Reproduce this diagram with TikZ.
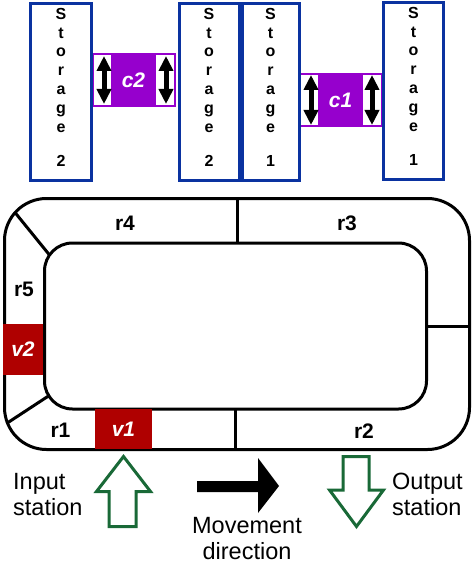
\documentclass[tikz,border=0pt]{standalone}
\usepackage{fontspec}
\setmainfont{Liberation Sans}
\usetikzlibrary{positioning}
\usetikzlibrary{arrows.meta}

\definecolor{storeblue}{RGB}{10,50,160}
\definecolor{cranepurple}{RGB}{150,0,205}
\definecolor{vehred}{RGB}{175,0,0}
\definecolor{stationgreen}{RGB}{25,105,55}

\tikzset{
  storage/.style={draw=storeblue, fill=white, line width=3pt, inner sep=0pt},
  storetext/.style={inner sep=0pt, align=center, font=\bfseries\fontsize{16}{18.8}\selectfont},
  crane/.style={draw=cranepurple, fill=white, line width=2.5pt, inner sep=0pt},
  cranemid/.style={fill=cranepurple, text=white, inner sep=0pt, minimum height=52pt, font=\bfseries\itshape\fontsize{21}{24}\selectfont},
  liftarrow/.style={line width=5pt, {Triangle[length=15pt,width=14pt]}-{Triangle[length=15pt,width=14pt]}},
  track/.style={line width=3pt, rounded corners=#1},
  vehicle/.style={fill=vehred, text=white, inner sep=0pt, font=\bfseries\itshape\fontsize{21}{24}\selectfont},
  seglabel/.style={inner sep=0pt, font=\bfseries\fontsize{21}{24}\selectfont},
  station/.style={draw=stationgreen, fill=white, line width=3pt, line join=miter},
  caption/.style={inner sep=0pt, font=\fontsize{23.5}{26}\selectfont}
}

\begin{document}
\begin{tikzpicture}[x=1pt, y=-1pt]
\useasboundingbox (0,0) rectangle (474,564);

% cranes between the storages
\node[crane, minimum width=82pt, minimum height=52pt] (c2box) at (134,80) {};
\node[cranemid, minimum width=45pt] (c2) at (133.5,80) {c2};
\node[crane, minimum width=83pt, minimum height=52pt] (c1box) at (340.5,100) {};
\node[cranemid, minimum width=45pt] (c1) at (340.5,100) {c1};
\foreach \ax/\ay/\by in {104/56/104, 166/56/104, 311/75/125, 372/75/125}
  \draw[liftarrow] (\ax,\ay) -- (\ax,\by);

% storages
\node[storage, minimum width=61pt, minimum height=177pt] (st2a) at (61,92) {};
\node[storage, minimum width=60pt, minimum height=177pt] (st2b) at (209,92) {};
\node[storage, minimum width=57pt, minimum height=177pt] (st1a) at (270.5,92) {};
\node[storage, minimum width=60pt, minimum height=177pt] (st1b) at (413.5,91) {};
\node[storetext, below=6pt of st2a.north] {S\\t\\o\\r\\a\\g\\e\\[16pt]2};
\node[storetext, below=6pt of st2b.north] {S\\t\\o\\r\\a\\g\\e\\[16pt]2};
\node[storetext, below=6pt of st1a.north] {S\\t\\o\\r\\a\\g\\e\\[16pt]1};
\node[storetext, below=6pt of st1b.north] {S\\t\\o\\r\\a\\g\\e\\[16pt]1};

% loop track
\draw[track=42] (4.5,198.5) rectangle (469.5,449.5);
\draw[track=28] (44.5,243) rectangle (426.5,409);
\draw[line width=3pt] (237.5,198.5) -- (237.5,243);
\draw[line width=3pt] (235.5,409) -- (235.5,449.5);
\draw[line width=3pt] (426.5,326) -- (469.5,326);
\draw[line width=3pt] (15,212.5) -- (49.5,255);
\draw[line width=3pt] (50,395) -- (6.5,423.5);

% segments
\node[seglabel] (r1) at (60.5,430) {r1};
\node[seglabel] (r2) at (364,431) {r2};
\node[seglabel] (r3) at (347,223.5) {r3};
\node[seglabel] (r4) at (125,223) {r4};
\node[seglabel] (r5) at (24,289) {r5};

% vehicles
\node[vehicle, minimum width=57pt, minimum height=40pt] (v1) at (123.5,429) {v1};
\node[vehicle, minimum width=40pt, minimum height=51pt] (v2) at (23,349.5) {v2};

% stations and direction
\draw[station] (123.5,456.5) -- (150.5,491.5) -- (136,491.5) -- (136,526.5)
  -- (109,526.5) -- (109,491.5) -- (96.5,491.5) -- cycle;
\draw[station] (356.5,526.5) -- (383.5,490) -- (369,490) -- (369,456.5)
  -- (343,456.5) -- (343,490) -- (329.5,490) -- cycle;
\fill (197,481) -- (258,481) -- (258,458) -- (279,486) -- (258,513)
  -- (258,492) -- (197,492) -- cycle;
\node[caption, align=left, anchor=north west] (input) at (13,473) {Input\\station};
\node[caption, align=left, anchor=north west] (output) at (392,473) {Output\\station};
\node[caption, align=center, anchor=north] (move) at (247,517) {Movement\\direction};
\end{tikzpicture}
\end{document}
